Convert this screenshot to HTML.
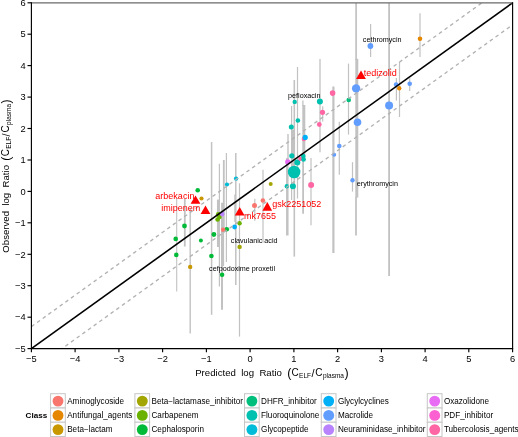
<!DOCTYPE html>
<html><head><meta charset="utf-8"><title>Observed vs Predicted log Ratio</title>
<style>html,body{margin:0;padding:0;background:#fff}svg{display:block}text{font-family:"Liberation Sans",sans-serif}</style></head><body>
<svg width="518" height="437" viewBox="0 0 518 437">
<rect width="518" height="437" fill="#fff"/>
<g stroke="#c2c2c2" fill="none">
<line x1="176.7" y1="198.4" x2="176.7" y2="291.4" stroke-width="1.1"/>
<line x1="184.8" y1="199.0" x2="184.8" y2="246.5" stroke-width="1.8"/>
<line x1="190.2" y1="207.8" x2="190.2" y2="333.4" stroke-width="1.4"/>
<line x1="211.6" y1="142.0" x2="211.6" y2="314.8" stroke-width="1.5"/>
<line x1="219.4" y1="163.8" x2="219.4" y2="286.6" stroke-width="1.2"/>
<line x1="223.8" y1="160.0" x2="223.8" y2="230.0" stroke-width="1.8"/>
<line x1="226.4" y1="153.0" x2="226.4" y2="262.0" stroke-width="1.2"/>
<line x1="235.8" y1="153.0" x2="235.8" y2="285.0" stroke-width="1.5"/>
<line x1="239.5" y1="183.3" x2="239.5" y2="336.6" stroke-width="1.2"/>
<line x1="254.8" y1="198.8" x2="254.8" y2="220.7" stroke-width="1.2"/>
<line x1="263.0" y1="169.8" x2="263.0" y2="242.8" stroke-width="1.2"/>
<line x1="222.0" y1="215.0" x2="222.0" y2="309.8" stroke-width="2.0"/>
<line x1="218.2" y1="199.6" x2="218.2" y2="247.0" stroke-width="2.5"/>
<line x1="222.6" y1="202.8" x2="222.6" y2="266.0" stroke-width="3.0"/>
<line x1="234.9" y1="194.6" x2="234.9" y2="222.0" stroke-width="1.3"/>
<line x1="293.0" y1="129.6" x2="293.0" y2="176.0" stroke-width="2.2"/>
<line x1="288.0" y1="134.0" x2="288.0" y2="160.0" stroke-width="1.4"/>
<line x1="287.3" y1="158.0" x2="287.3" y2="235.5" stroke-width="2.5"/>
<line x1="291.6" y1="106.0" x2="291.6" y2="200.0" stroke-width="1.2"/>
<line x1="294.3" y1="80.0" x2="294.3" y2="256.6" stroke-width="1.6"/>
<line x1="297.5" y1="67.0" x2="297.5" y2="198.5" stroke-width="1.2"/>
<line x1="302.9" y1="100.4" x2="302.9" y2="106.0" stroke-width="1.3"/>
<line x1="303.8" y1="105.0" x2="303.8" y2="160.0" stroke-width="3.0"/>
<line x1="303.1" y1="158.0" x2="303.1" y2="213.8" stroke-width="1.8"/>
<line x1="311.0" y1="158.0" x2="311.0" y2="225.2" stroke-width="1.2"/>
<line x1="320.0" y1="59.0" x2="320.0" y2="152.2" stroke-width="1.3"/>
<line x1="322.7" y1="106.3" x2="322.7" y2="121.4" stroke-width="1.2"/>
<line x1="333.4" y1="86.5" x2="333.4" y2="253.0" stroke-width="2.2"/>
<line x1="339.3" y1="121.7" x2="339.3" y2="174.8" stroke-width="1.2"/>
<line x1="348.5" y1="63.6" x2="348.5" y2="134.6" stroke-width="1.2"/>
<line x1="352.5" y1="162.2" x2="352.5" y2="191.6" stroke-width="1.2"/>
<line x1="356.1" y1="3.0" x2="356.1" y2="60.0" stroke-width="1.7"/>
<line x1="356.8" y1="58.8" x2="356.8" y2="197.6" stroke-width="3.0"/>
<line x1="356.0" y1="197.0" x2="356.0" y2="235.6" stroke-width="1.8"/>
<line x1="370.6" y1="24.0" x2="370.6" y2="57.0" stroke-width="1.2"/>
<line x1="389.1" y1="3.0" x2="389.1" y2="276.0" stroke-width="1.8"/>
<line x1="396.4" y1="78.0" x2="396.4" y2="100.4" stroke-width="1.2"/>
<line x1="399.5" y1="62.0" x2="399.5" y2="117.0" stroke-width="1.2"/>
<line x1="409.7" y1="78.3" x2="409.7" y2="91.0" stroke-width="1.2"/>
<line x1="420.0" y1="13.2" x2="420.0" y2="57.0" stroke-width="1.2"/>
</g>
<circle cx="197.7" cy="190.2" r="2.3" fill="#00BA38"/>
<circle cx="201.5" cy="198.5" r="2.1" fill="#C99800"/>
<circle cx="227.0" cy="184.5" r="2.1" fill="#00BCD8"/>
<circle cx="236.1" cy="178.6" r="2.2" fill="#00BCD8"/>
<circle cx="184.5" cy="226.0" r="2.4" fill="#00BA38"/>
<circle cx="175.7" cy="238.9" r="2.3" fill="#00BA38"/>
<circle cx="200.9" cy="240.6" r="2.0" fill="#00BA38"/>
<circle cx="213.9" cy="234.5" r="2.4" fill="#00BA38"/>
<circle cx="176.3" cy="254.9" r="2.3" fill="#00BA38"/>
<circle cx="211.4" cy="256.0" r="2.3" fill="#00BA38"/>
<circle cx="190.2" cy="266.9" r="2.2" fill="#C99800"/>
<circle cx="226.8" cy="229.3" r="2.3" fill="#00BA38"/>
<circle cx="223.2" cy="229.8" r="2.3" fill="#F8766D"/>
<circle cx="218.2" cy="214.4" r="2.3" fill="#6BB100"/>
<circle cx="217.6" cy="219.5" r="2.3" fill="#6BB100"/>
<circle cx="219.4" cy="217.0" r="2.3" fill="#6BB100"/>
<circle cx="222.2" cy="214.1" r="2.3" fill="#B983FF"/>
<circle cx="239.6" cy="223.3" r="2.2" fill="#6BB100"/>
<circle cx="234.6" cy="227.0" r="2.4" fill="#00B0F6"/>
<circle cx="239.6" cy="246.9" r="2.2" fill="#A3A500"/>
<circle cx="222.1" cy="274.7" r="2.3" fill="#00BA38"/>
<circle cx="270.7" cy="184.0" r="2.0" fill="#A3A500"/>
<circle cx="262.9" cy="200.5" r="2.3" fill="#F8766D"/>
<circle cx="254.5" cy="205.6" r="2.5" fill="#F8766D"/>
<circle cx="294.1" cy="172.0" r="6.3" fill="#00C0AF"/>
<circle cx="292.9" cy="186.2" r="3.0" fill="#00C0AF"/>
<circle cx="286.8" cy="186.2" r="2.2" fill="#00C0AF"/>
<circle cx="311.1" cy="185.0" r="3.0" fill="#FF67A4"/>
<circle cx="287.8" cy="161.9" r="2.7" fill="#E76BF3"/>
<circle cx="297.3" cy="162.6" r="3.0" fill="#00C0AF"/>
<circle cx="291.8" cy="155.8" r="2.6" fill="#00C0AF"/>
<circle cx="300.4" cy="158.8" r="2.2" fill="#FF67A4"/>
<circle cx="303.6" cy="159.4" r="2.3" fill="#00C0AF"/>
<circle cx="303.3" cy="156.0" r="2.3" fill="#00C0AF"/>
<circle cx="297.9" cy="120.5" r="2.3" fill="#00C0AF"/>
<circle cx="291.3" cy="127.0" r="2.5" fill="#00C0AF"/>
<circle cx="303.9" cy="139.0" r="2.2" fill="#FF67A4"/>
<circle cx="305.2" cy="137.4" r="2.6" fill="#00B0F6"/>
<circle cx="322.5" cy="112.3" r="2.6" fill="#FF67A4"/>
<circle cx="319.3" cy="124.5" r="2.4" fill="#FF67A4"/>
<circle cx="294.7" cy="101.9" r="2.2" fill="#00C0AF"/>
<circle cx="319.9" cy="101.6" r="3.0" fill="#00C0AF"/>
<circle cx="370.4" cy="46.0" r="2.9" fill="#619CFF"/>
<circle cx="356.1" cy="88.4" r="4.2" fill="#619CFF"/>
<circle cx="332.6" cy="93.1" r="2.8" fill="#FF67A4"/>
<circle cx="348.7" cy="100.0" r="2.3" fill="#00BF7D"/>
<circle cx="357.5" cy="122.3" r="3.8" fill="#619CFF"/>
<circle cx="339.3" cy="146.0" r="2.3" fill="#619CFF"/>
<circle cx="334.2" cy="154.8" r="2.0" fill="#619CFF"/>
<circle cx="352.5" cy="180.2" r="2.2" fill="#619CFF"/>
<circle cx="420.0" cy="38.7" r="2.3" fill="#E58700"/>
<circle cx="396.1" cy="84.6" r="2.3" fill="#619CFF"/>
<circle cx="399.2" cy="88.2" r="2.2" fill="#E58700"/>
<circle cx="409.7" cy="83.8" r="2.3" fill="#619CFF"/>
<circle cx="389.1" cy="105.4" r="4.0" fill="#619CFF"/>
<clipPath id="panel"><rect x="31.4" y="2.8" width="481.2" height="345.8"/></clipPath>
<g stroke="#b2b2b2" stroke-width="1.35" stroke-dasharray="3.6,3.37" fill="none" clip-path="url(#panel)">
<line x1="31.4" y1="326.6" x2="512.6" y2="-19.2"/>
<line x1="31.4" y1="370.6" x2="512.6" y2="24.8"/>
</g>
<line x1="31.4" y1="348.6" x2="512.6" y2="2.8" stroke="#000" stroke-width="1.6"/>
<polygon points="195.5,195.4 190.6,203.8 200.4,203.8" fill="#ff0000"/>
<polygon points="205.5,205.6 200.6,213.9 210.4,213.9" fill="#ff0000"/>
<polygon points="239.7,206.9 234.8,215.5 244.6,215.5" fill="#ff0000"/>
<polygon points="267.3,202.1 262.4,210.7 272.2,210.7" fill="#ff0000"/>
<polygon points="361.0,70.4 356.1,78.9 365.9,78.9" fill="#ff0000"/>
<g font-size="9.0" fill="#ff0000">
<text x="194.4" y="198.7" text-anchor="end">arbekacin</text>
<text x="200.2" y="210.6" text-anchor="end">imipenem</text>
<text x="243.9" y="218.9" text-anchor="start">mk7655</text>
<text x="272.3" y="206.9" text-anchor="start">gsk2251052</text>
<text x="363.8" y="76.1" text-anchor="start">tedizolid</text>
</g>
<g font-size="7.2" fill="#000">
<text x="362.8" y="41.8">cethromycin</text>
<text x="288.1" y="97.9">pefloxacin</text>
<text x="356.8" y="185.9">erythromycin</text>
<text x="230.8" y="242.5">clavulanic acid</text>
<text x="209.1" y="270.7">cefpodoxime proxetil</text>
</g>
<line x1="31.4" y1="2.8" x2="513.1" y2="2.8" stroke="#6a6a6a" stroke-width="1.3"/>
<g stroke="#000" stroke-width="1.15" fill="none">
<line x1="31.4" y1="2.2" x2="31.4" y2="349.1"/>
<line x1="512.6" y1="2.2" x2="512.6" y2="349.1"/>
<line x1="30.9" y1="348.6" x2="513.1" y2="348.6"/>
<line x1="31.4" y1="348.6" x2="31.4" y2="352.2"/>
<line x1="27.5" y1="348.6" x2="31.4" y2="348.6"/>
<line x1="75.1" y1="348.6" x2="75.1" y2="352.2"/>
<line x1="27.5" y1="317.2" x2="31.4" y2="317.2"/>
<line x1="118.9" y1="348.6" x2="118.9" y2="352.2"/>
<line x1="27.5" y1="285.7" x2="31.4" y2="285.7"/>
<line x1="162.6" y1="348.6" x2="162.6" y2="352.2"/>
<line x1="27.5" y1="254.3" x2="31.4" y2="254.3"/>
<line x1="206.4" y1="348.6" x2="206.4" y2="352.2"/>
<line x1="27.5" y1="222.8" x2="31.4" y2="222.8"/>
<line x1="250.1" y1="348.6" x2="250.1" y2="352.2"/>
<line x1="27.5" y1="191.4" x2="31.4" y2="191.4"/>
<line x1="293.9" y1="348.6" x2="293.9" y2="352.2"/>
<line x1="27.5" y1="160.0" x2="31.4" y2="160.0"/>
<line x1="337.6" y1="348.6" x2="337.6" y2="352.2"/>
<line x1="27.5" y1="128.5" x2="31.4" y2="128.5"/>
<line x1="381.4" y1="348.6" x2="381.4" y2="352.2"/>
<line x1="27.5" y1="97.1" x2="31.4" y2="97.1"/>
<line x1="425.1" y1="348.6" x2="425.1" y2="352.2"/>
<line x1="27.5" y1="65.6" x2="31.4" y2="65.6"/>
<line x1="468.8" y1="348.6" x2="468.8" y2="352.2"/>
<line x1="27.5" y1="34.2" x2="31.4" y2="34.2"/>
<line x1="512.6" y1="348.6" x2="512.6" y2="352.2"/>
<line x1="27.5" y1="2.8" x2="31.4" y2="2.8"/>
</g>
<g font-size="9.3" fill="#000">
<text x="31.4" y="361.5" text-anchor="middle">−5</text>
<text x="25.6" y="351.8" text-anchor="end">−5</text>
<text x="75.1" y="361.5" text-anchor="middle">−4</text>
<text x="25.6" y="320.4" text-anchor="end">−4</text>
<text x="118.9" y="361.5" text-anchor="middle">−3</text>
<text x="25.6" y="288.9" text-anchor="end">−3</text>
<text x="162.6" y="361.5" text-anchor="middle">−2</text>
<text x="25.6" y="257.5" text-anchor="end">−2</text>
<text x="206.4" y="361.5" text-anchor="middle">−1</text>
<text x="25.6" y="226.0" text-anchor="end">−1</text>
<text x="250.1" y="361.5" text-anchor="middle">0</text>
<text x="25.6" y="194.6" text-anchor="end">0</text>
<text x="293.9" y="361.5" text-anchor="middle">1</text>
<text x="25.6" y="163.2" text-anchor="end">1</text>
<text x="337.6" y="361.5" text-anchor="middle">2</text>
<text x="25.6" y="131.7" text-anchor="end">2</text>
<text x="381.4" y="361.5" text-anchor="middle">3</text>
<text x="25.6" y="100.3" text-anchor="end">3</text>
<text x="425.1" y="361.5" text-anchor="middle">4</text>
<text x="25.6" y="68.8" text-anchor="end">4</text>
<text x="468.8" y="361.5" text-anchor="middle">5</text>
<text x="25.6" y="37.4" text-anchor="end">5</text>
<text x="512.6" y="361.5" text-anchor="middle">6</text>
<text x="25.6" y="6.0" text-anchor="end">6</text>
</g>
<g transform="translate(195.2,376.4)" fill="#000" font-size="9.65">
<text x="0" y="0" xml:space="preserve">Predicted  log  Ratio</text>
<text x="92.0" y="0.7" font-size="12.4">(</text>
<text x="96.4" y="0" font-size="10">C</text>
<text x="103.9" y="1.9" font-size="6.5">ELF</text>
<text x="116.2" y="0.4" font-size="11">/</text>
<text x="120.1" y="0" font-size="10">C</text>
<text x="127.8" y="1.9" font-size="6.5">plasma</text>
<text x="149.2" y="0.7" font-size="12.4">)</text>
</g>
<g transform="translate(9.4,252.7) rotate(-90)" fill="#000" font-size="9.65">
<text x="0" y="0" xml:space="preserve">Observed  log  Ratio</text>
<text x="92.0" y="0.7" font-size="12.4">(</text>
<text x="96.4" y="0" font-size="10">C</text>
<text x="103.9" y="1.9" font-size="6.5">ELF</text>
<text x="116.2" y="0.4" font-size="11">/</text>
<text x="120.1" y="0" font-size="10">C</text>
<text x="127.8" y="1.9" font-size="6.5">plasma</text>
<text x="149.2" y="0.7" font-size="12.4">)</text>
</g>
<text x="25.6" y="417.8" font-size="8.1" font-weight="bold" fill="#000">Class</text>
<rect x="50.6" y="393.7" width="14.7" height="14.3" fill="#fff" stroke="#c6c6c6" stroke-width="1"/>
<circle cx="58.0" cy="401.1" r="5.45" fill="#F8766D"/>
<text x="67.2" y="403.8" font-size="8.15" fill="#000">Aminoglycoside</text>
<rect x="50.6" y="408.0" width="14.7" height="14.3" fill="#fff" stroke="#c6c6c6" stroke-width="1"/>
<circle cx="58.0" cy="415.4" r="5.45" fill="#E58700"/>
<text x="67.2" y="418.1" font-size="8.15" fill="#000">Antifungal_agents</text>
<rect x="50.6" y="422.2" width="14.7" height="14.3" fill="#fff" stroke="#c6c6c6" stroke-width="1"/>
<circle cx="58.0" cy="429.6" r="5.45" fill="#C99800"/>
<text x="67.2" y="432.3" font-size="8.15" fill="#000">Beta−lactam</text>
<rect x="134.9" y="393.7" width="14.7" height="14.3" fill="#fff" stroke="#c6c6c6" stroke-width="1"/>
<circle cx="142.3" cy="401.1" r="5.45" fill="#A3A500"/>
<text x="151.5" y="403.8" font-size="8.15" fill="#000">Beta−lactamase_inhibitor</text>
<rect x="134.9" y="408.0" width="14.7" height="14.3" fill="#fff" stroke="#c6c6c6" stroke-width="1"/>
<circle cx="142.3" cy="415.4" r="5.45" fill="#6BB100"/>
<text x="151.5" y="418.1" font-size="8.15" fill="#000">Carbapenem</text>
<rect x="134.9" y="422.2" width="14.7" height="14.3" fill="#fff" stroke="#c6c6c6" stroke-width="1"/>
<circle cx="142.3" cy="429.6" r="5.45" fill="#00BA38"/>
<text x="151.5" y="432.3" font-size="8.15" fill="#000">Cephalosporin</text>
<rect x="244.5" y="393.7" width="14.7" height="14.3" fill="#fff" stroke="#c6c6c6" stroke-width="1"/>
<circle cx="251.9" cy="401.1" r="5.45" fill="#00BF7D"/>
<text x="261.1" y="403.8" font-size="8.15" fill="#000">DHFR_inhibitor</text>
<rect x="244.5" y="408.0" width="14.7" height="14.3" fill="#fff" stroke="#c6c6c6" stroke-width="1"/>
<circle cx="251.9" cy="415.4" r="5.45" fill="#00C0AF"/>
<text x="261.1" y="418.1" font-size="8.15" fill="#000">Fluoroquinolone</text>
<rect x="244.5" y="422.2" width="14.7" height="14.3" fill="#fff" stroke="#c6c6c6" stroke-width="1"/>
<circle cx="251.9" cy="429.6" r="5.45" fill="#00BCD8"/>
<text x="261.1" y="432.3" font-size="8.15" fill="#000">Glycopeptide</text>
<rect x="321.3" y="393.7" width="14.7" height="14.3" fill="#fff" stroke="#c6c6c6" stroke-width="1"/>
<circle cx="328.7" cy="401.1" r="5.45" fill="#00B0F6"/>
<text x="337.9" y="403.8" font-size="8.15" fill="#000">Glycylcyclines</text>
<rect x="321.3" y="408.0" width="14.7" height="14.3" fill="#fff" stroke="#c6c6c6" stroke-width="1"/>
<circle cx="328.7" cy="415.4" r="5.45" fill="#619CFF"/>
<text x="337.9" y="418.1" font-size="8.15" fill="#000">Macrolide</text>
<rect x="321.3" y="422.2" width="14.7" height="14.3" fill="#fff" stroke="#c6c6c6" stroke-width="1"/>
<circle cx="328.7" cy="429.6" r="5.45" fill="#B983FF"/>
<text x="337.9" y="432.3" font-size="8.15" fill="#000">Neuraminidase_inhibitor</text>
<rect x="427.3" y="393.7" width="14.7" height="14.3" fill="#fff" stroke="#c6c6c6" stroke-width="1"/>
<circle cx="434.7" cy="401.1" r="5.45" fill="#E76BF3"/>
<text x="443.9" y="403.8" font-size="8.15" fill="#000">Oxazolidone</text>
<rect x="427.3" y="408.0" width="14.7" height="14.3" fill="#fff" stroke="#c6c6c6" stroke-width="1"/>
<circle cx="434.7" cy="415.4" r="5.45" fill="#FD61D1"/>
<text x="443.9" y="418.1" font-size="8.15" fill="#000">PDF_inhibitor</text>
<rect x="427.3" y="422.2" width="14.7" height="14.3" fill="#fff" stroke="#c6c6c6" stroke-width="1"/>
<circle cx="434.7" cy="429.6" r="5.45" fill="#FF67A4"/>
<text x="443.9" y="432.3" font-size="8.15" fill="#000">Tubercolosis_agents</text>
</svg></body></html>
